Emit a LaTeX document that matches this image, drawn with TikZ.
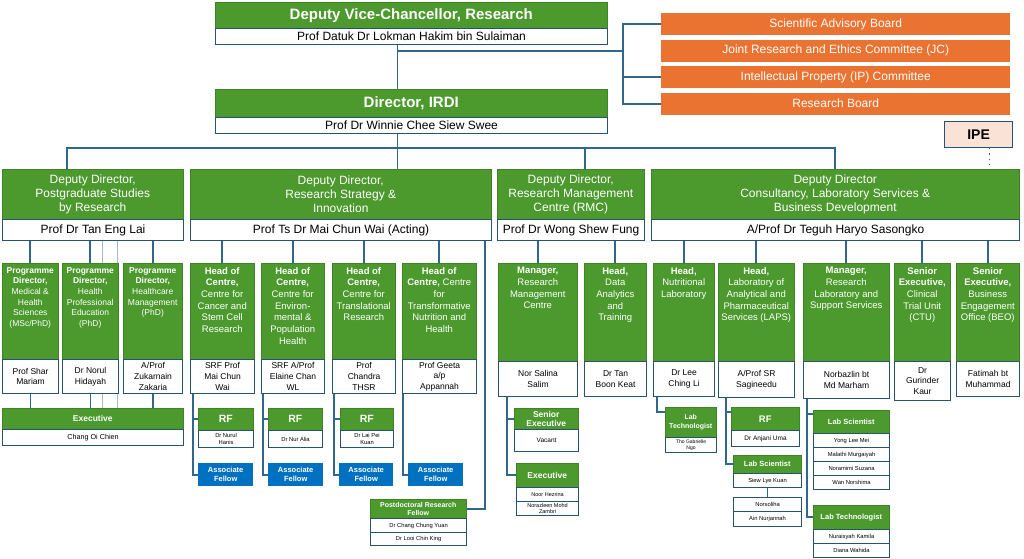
\documentclass[tikz,border=0pt]{standalone}
\usepackage{fontspec}
\setmainfont{Liberation Sans}
\usetikzlibrary{calc,backgrounds}

\definecolor{grn}{RGB}{76,153,46}
\definecolor{org}{RGB}{234,115,50}
\definecolor{afb}{RGB}{0,112,192}
\definecolor{lnc}{RGB}{46,104,140}
\definecolor{edge}{RGB}{40,82,112}
\definecolor{ipef}{RGB}{251,226,214}
\newcommand{\fsz}[2]{\fontsize{#1}{#2}\selectfont}
\newcommand{\tbx}[3]{\parbox[c][#2pt][t]{#1pt}{\centering\vspace*{4pt}#3\par}}
\newcommand{\cbx}[3]{\parbox[c][#2pt][c]{#1pt}{\centering #3\par}}

\begin{document}
\begin{tikzpicture}[x=1pt,y=-1pt,
  gbox/.style={anchor=north west,fill=grn,draw=grn!85!black,line width=.5pt,inner sep=0pt,text=white},
  wbox/.style={anchor=north west,fill=white,draw=edge,line width=1.1pt,inner sep=0pt,text=black},
  obox/.style={anchor=north west,fill=org,inner sep=0pt,text=white,font=\fsz{12}{14}},
  abox/.style={anchor=north west,fill=afb,inner sep=0pt,text=white,font=\fsz{7.5}{9}\bfseries},
  conn/.style={draw=lnc,line width=1.6pt},
  ttl/.style={font=\fsz{15}{18}\bfseries},
  big/.style={font=\fsz{12}{14.3}},
  rowa/.style={font=\fsz{9.5}{11.7}},
  rowb/.style={font=\fsz{8.5}{10.7}},
  tiny/.style={font=\fsz{5.8}{6.8}}]
\useasboundingbox (0,0) rectangle (1024,558);

% top of the chart
\node[gbox,ttl] (dvc) at (215,2) {\cbx{392}{26}{Deputy Vice-Chancellor, Research}};
\node[wbox,big] (dvcn) at (215,28) {\cbx{392}{16}{Prof Datuk Dr Lokman Hakim bin Sulaiman}};
\node[gbox,ttl] (dir) at (215,89) {\cbx{392}{28}{Director, IRDI}};
\node[wbox,big] (dirn) at (215,117) {\cbx{392}{16}{Prof Dr Winnie Chee Siew Swee}};

\node[obox] (sab) at (661,13) {\cbx{349}{22}{Scientific Advisory Board}};
\node[obox] (jc) at (661,39.5) {\cbx{349}{22}{Joint Research and Ethics Committee (JC)}};
\node[obox] (ipc) at (661,66) {\cbx{349}{22}{Intellectual Property (IP) Committee}};
\node[obox] (rb) at (661,92.5) {\cbx{349}{22}{Research Board}};
\node[wbox,fill=ipef,font=\fsz{14}{16}\bfseries] (ipe) at (944,121) {\cbx{68}{26}{IPE}};

% deputy directors
\node[gbox,big] (pgd) at (2,169) {\cbx{181}{50}{Deputy Director,\\Postgraduate Studies\\by Research}};
\node[wbox,big] (pgdn) at (2,219) {\cbx{181}{21}{Prof Dr Tan Eng Lai}};
\node[gbox,big] (rsd) at (190,169) {\cbx{301}{50}{Deputy Director,\\Research Strategy \&\\Innovation}};
\node[wbox,big] (rsdn) at (190,219) {\cbx{301}{21}{Prof Ts Dr Mai Chun Wai (Acting)}};
\node[gbox,big] (rmd) at (497,169) {\cbx{147}{50}{Deputy Director,\\Research Management\\Centre (RMC)}};
\node[wbox,big] (rmdn) at (497,219) {\cbx{147}{21}{Prof Dr Wong Shew Fung}};
\node[gbox,big] (cld) at (651,169) {\cbx{368}{50}{Deputy Director\\Consultancy, Laboratory Services \&\\Business Development}};
\node[wbox,big] (cldn) at (651,219) {\cbx{368}{21}{A/Prof Dr Teguh Haryo Sasongko}};

% postgraduate studies
\node[gbox,rowb] (pd1) at (2,263) {\tbx{56}{96}{\textbf{Programme}\\\textbf{Director,}\\Medical \&\\Health\\Sciences\\(MSc/PhD)}};
\node[wbox,rowb] (pd1n) at (2,359) {\cbx{56}{34}{Prof Shar\\Mariam}};
\node[gbox,rowb] (pd2) at (62,263) {\tbx{56}{96}{\textbf{Programme}\\\textbf{Director,}\\Health\\Professional\\Education\\(PhD)}};
\node[wbox,rowb] (pd2n) at (62,359) {\cbx{56}{34}{Dr Norul\\Hidayah}};
\node[gbox,rowb] (pd3) at (123,263) {\tbx{59}{96}{\textbf{Programme}\\\textbf{Director,}\\Healthcare\\Management\\(PhD)}};
\node[wbox,rowb] (pd3n) at (123,359) {\cbx{59}{34}{A/Prof\\Zukarnain\\Zakaria}};
\node[gbox,font=\fsz{8.5}{10}\bfseries] (pgx) at (2,408) {\cbx{181}{21}{Executive}};
\node[wbox,font=\fsz{7.2}{8.5}] (pgxn) at (2,429) {\cbx{181}{16}{Chang Oi Chien}};

% research strategy
\node[gbox,rowa] (h1) at (190,263) {\tbx{64}{96}{\textbf{Head of}\\\textbf{Centre,}\\Centre for\\Cancer and\\Stem Cell\\Research}};
\node[wbox,rowb] (h1n) at (190,359) {\cbx{64}{34}{SRF Prof\\Mai Chun\\Wai}};
\node[gbox,rowa] (h2) at (261,263) {\tbx{63}{96}{\textbf{Head of}\\\textbf{Centre,}\\Centre for\\Environ-\\mental \&\\Population\\Health}};
\node[wbox,rowb] (h2n) at (261,359) {\cbx{63}{34}{SRF A/Prof\\Elaine Chan\\WL}};
\node[gbox,rowa] (h3) at (332,263) {\tbx{63}{96}{\textbf{Head of}\\\textbf{Centre,}\\Centre for\\Translational\\Research}};
\node[wbox,rowb] (h3n) at (332,359) {\cbx{63}{34}{Prof\\Chandra\\THSR}};
\node[gbox,rowa] (h4) at (402,263) {\tbx{74}{96}{\textbf{Head of}\\\textbf{Centre,} Centre\\for\\Transformative\\Nutrition and\\Health}};
\node[wbox,rowb] (h4n) at (402,359) {\cbx{74}{34}{Prof Geeta\\a/p\\Appannah}};

\node[gbox,font=\fsz{10.5}{12}\bfseries] (rf1) at (198,408) {\cbx{55}{22}{RF}};
\node[wbox,tiny] (rf1n) at (198,430) {\cbx{55}{17}{Dr Nurul\\Hanis}};
\node[gbox,font=\fsz{10.5}{12}\bfseries] (rf2) at (268,408) {\cbx{54}{22}{RF}};
\node[wbox,tiny] (rf2n) at (268,430) {\cbx{54}{17}{Dr Nur Alia}};
\node[gbox,font=\fsz{10.5}{12}\bfseries] (rf3) at (340,408) {\cbx{53}{22}{RF}};
\node[wbox,tiny] (rf3n) at (340,430) {\cbx{53}{17}{Dr Lai Pei\\Kuan}};
\node[abox] (af1) at (198,463) {\cbx{55}{23}{Associate\\Fellow}};
\node[abox] (af2) at (268,463) {\cbx{55}{23}{Associate\\Fellow}};
\node[abox] (af3) at (339,463) {\cbx{54}{23}{Associate\\Fellow}};
\node[abox] (af4) at (408,463) {\cbx{55}{23}{Associate\\Fellow}};
\node[gbox,font=\fsz{7}{8.5}\bfseries] (pdf) at (370,499) {\cbx{96}{19}{Postdoctoral Research\\Fellow}};
\node[wbox,tiny] (pdfa) at (370,518) {\cbx{96}{14}{Dr Chang Chung Yuan}};
\node[wbox,tiny] (pdfb) at (370,532) {\cbx{96}{13}{Dr Looi Chin King}};

% research management centre
\node[gbox,rowa] (m1) at (498,263) {\tbx{79}{98}{\textbf{Manager,}\\Research\\Management\\Centre}};
\node[wbox,rowb] (m1n) at (498,361) {\cbx{79}{35}{Nor Salina\\Salim}};
\node[gbox,rowa] (da) at (584,263) {\tbx{62}{98}{\textbf{Head,}\\Data\\Analytics\\and\\Training}};
\node[wbox,rowb] (dan) at (584,361) {\cbx{62}{35}{Dr Tan\\Boon Keat}};
\node[gbox,font=\fsz{8.5}{9.5}\bfseries] (se) at (514,408) {\cbx{64}{21}{Senior\\Executive}};
\node[wbox,font=\fsz{6.5}{8}] (sen) at (514,429) {\cbx{64}{22}{Vacant}};
\node[gbox,font=\fsz{8.5}{9.5}\bfseries] (ex) at (516,463) {\cbx{62}{24}{Executive}};
\node[wbox,font=\fsz{5.5}{6.5}] (exa) at (516,487) {\cbx{62}{14}{Noor Hezrina}};
\node[wbox,font=\fsz{5.5}{6.5}] (exb) at (516,501) {\cbx{62}{14}{Norazleen Mohd\\Zambri}};

% consultancy, lab services
\node[gbox,rowa] (nl) at (653,263) {\tbx{61}{98}{\textbf{Head,}\\Nutritional\\Laboratory}};
\node[wbox,rowb] (nln) at (653,361) {\cbx{61}{35}{Dr Lee\\Ching Li}};
\node[gbox,rowa] (laps) at (718,263) {\tbx{76}{98}{\textbf{Head,}\\Laboratory of\\Analytical and\\Pharmaceutical\\Services (LAPS)}};
\node[wbox,rowb] (lapsn) at (718,361) {\cbx{76}{36}{A/Prof SR\\Sagineedu}};
\node[gbox,rowa] (rlss) at (803,263) {\tbx{86}{98}{\textbf{Manager,}\\Research\\Laboratory and\\Support Services}};
\node[wbox,rowb] (rlssn) at (803,361) {\cbx{86}{37}{Norbazlin bt\\Md Marham}};
\node[gbox,rowa] (ctu) at (894,263) {\tbx{56}{98}{\textbf{Senior}\\\textbf{Executive,}\\Clinical\\Trial Unit\\(CTU)}};
\node[wbox,rowb] (ctun) at (894,361) {\cbx{56}{39}{Dr\\Gurinder\\Kaur}};
\node[gbox,rowa] (beo) at (956,263) {\tbx{63}{98}{\textbf{Senior}\\\textbf{Executive,}\\Business\\Engagement\\Office (BEO)}};
\node[wbox,rowb] (beon) at (956,361) {\cbx{63}{35}{Fatimah bt\\Muhammad}};

\node[gbox,font=\fsz{7}{8.5}\bfseries] (lt1) at (665,407) {\cbx{51}{30}{Lab\\Technologist}};
\node[wbox,font=\fsz{5}{6}] (lt1n) at (665,437) {\cbx{51}{15}{Tho Gabrielle\\Ngo}};
\node[gbox,font=\fsz{9.5}{11}\bfseries] (rf4) at (731,407) {\cbx{68}{23}{RF}};
\node[wbox,font=\fsz{6.5}{8}] (rf4n) at (731,430) {\cbx{68}{16}{Dr Anjani Uma}};
\node[gbox,font=\fsz{7.5}{9}\bfseries] (ls1) at (733,455) {\cbx{68}{18}{Lab Scientist}};
\node[wbox,tiny] (ls1n) at (733,473) {\cbx{68}{14}{Siew Lye Kuan}};
\node[wbox,tiny] (ls1a) at (733,497) {\cbx{68}{14}{Norsoliha}};
\node[wbox,tiny] (ls1b) at (733,511) {\cbx{68}{15}{Ain Nurjannah}};
\node[gbox,font=\fsz{7.5}{9}\bfseries] (ls2) at (813,410) {\cbx{76}{23}{Lab Scientist}};
\node[wbox,tiny] (ls2a) at (813,433) {\cbx{76}{14}{Yong Lee Mei}};
\node[wbox,tiny] (ls2b) at (813,447) {\cbx{76}{14}{Malathi Murgaiyah}};
\node[wbox,tiny] (ls2c) at (813,461) {\cbx{76}{14}{Noramimi Suzana}};
\node[wbox,tiny] (ls2d) at (813,475) {\cbx{76}{14}{Wan Norshima}};
\node[gbox,font=\fsz{7.5}{9}\bfseries] (lt2) at (813,505) {\cbx{76}{24}{Lab Technologist}};
\node[wbox,tiny] (lt2a) at (813,529) {\cbx{76}{14}{Nuraisyah Kamila}};
\node[wbox,tiny] (lt2b) at (813,543) {\cbx{76}{14}{Diana Wahida}};

\begin{pgfonlayer}{background}
% reporting lines
\coordinate (spine) at ([xshift=-14pt]dvcn.south);
\coordinate (br) at ([xshift=-38pt]jc.west);
\draw[conn] (spine) -- (spine |- dir.north);
\draw[conn] (spine |- br) -- (br);
\draw[conn] (sab.west) -| (br) |- (rb.west);
\draw[conn] (ipc.west) -| (br);
\coordinate (bus) at ([xshift=-14pt,yshift=-14pt]dirn.south);
\draw[conn] ([xshift=-14pt]dirn.south) -- (bus |- rsd.north);
\draw[conn] ([xshift=-26pt]pgd.north) |- (bus) -| ([xshift=14pt]rmd.north);
\draw[conn] (bus) -| (cld.north);
\draw[conn,line width=1.2pt,dash pattern=on 1.2pt off 4pt] ([xshift=11pt]ipe.south) -- ([xshift=11pt]ipe.south |- cld.north);

\draw[conn] (pgdn.south -| pd1.north) -- (pd1.north);
\draw[conn] (pgdn.south -| pd2.north) -- (pd2.north);
\draw[conn] (pgdn.south -| pd3.north) -- (pd3.north);
\draw[conn] (pd1n.south) -- (pd1n.south |- pgx.north);
\draw[conn] (pd2n.south) -- (pd2n.south |- pgx.north);
\draw[conn] (pd3n.south) -- (pd3n.south |- pgx.north);
\draw[conn,draw=lnc!45] ($(pgdn.south)+(9.5,0)$) -- ($(pgdn.south |- pgx.north)+(9.5,0)$);
\draw[conn,draw=lnc!45] ($(pgdn.south)+(24.5,0)$) -- ($(pgdn.south |- pgx.north)+(24.5,0)$);

\draw[conn] (rsdn.south -| h1.north) -- (h1.north);
\draw[conn] (rsdn.south -| h2.north) -- (h2.north);
\draw[conn] (rsdn.south -| h3.north) -- (h3.north);
\draw[conn] (rsdn.south -| h4.north) -- (h4.north);
\draw[conn] ([xshift=3pt]h1n.south west) |- (rf1.west);
\draw[conn] ([xshift=3pt]h1n.south west) |- (af1.west);
\draw[conn] ([xshift=2pt]h2n.south west) |- (rf2.west);
\draw[conn] ([xshift=2pt]h2n.south west) |- (af2.west);
\draw[conn] ([xshift=2pt]h3n.south west) |- (rf3.west);
\draw[conn] ([xshift=2pt]h3n.south west) |- (af3.west);
\draw[conn] ([xshift=1pt]h4n.south west) |- (af4.west);
\draw[conn] ([xshift=-7pt]rsdn.south east) |- (pdf.east);

\draw[conn] (rmdn.south -| m1.north) -- (m1.north);
\draw[conn] (rmdn.south -| da.north) -- (da.north);
\draw[conn] ([xshift=9pt]m1n.south west) |- (se.west);
\draw[conn] ([xshift=9pt]m1n.south west) |- (ex.west);

\draw[conn] (cldn.south -| nl.north) -- (nl.north);
\draw[conn] (cldn.south -| laps.north) -- (laps.north);
\draw[conn] (cldn.south -| rlss.north) -- (rlss.north);
\draw[conn] (cldn.south -| ctu.north) -- (ctu.north);
\draw[conn] (cldn.south -| beo.north) -- (beo.north);
\draw[conn] ([xshift=4pt]nln.south west) |- ([yshift=10pt]lt1.west);
\draw[conn] ([xshift=8pt]lapsn.south west) |- ([yshift=7pt]rf4.west);
\draw[conn] ([xshift=8pt]lapsn.south west) |- (ls1.west);
\draw[conn] (ls1n.south) -- (ls1a.north);
\draw[conn] ([xshift=4pt]rlssn.south west) |- ([yshift=8pt]ls2.west);
\draw[conn] ([xshift=4pt]rlssn.south west) |- (lt2.west);
\end{pgfonlayer}
\end{tikzpicture}
\end{document}
